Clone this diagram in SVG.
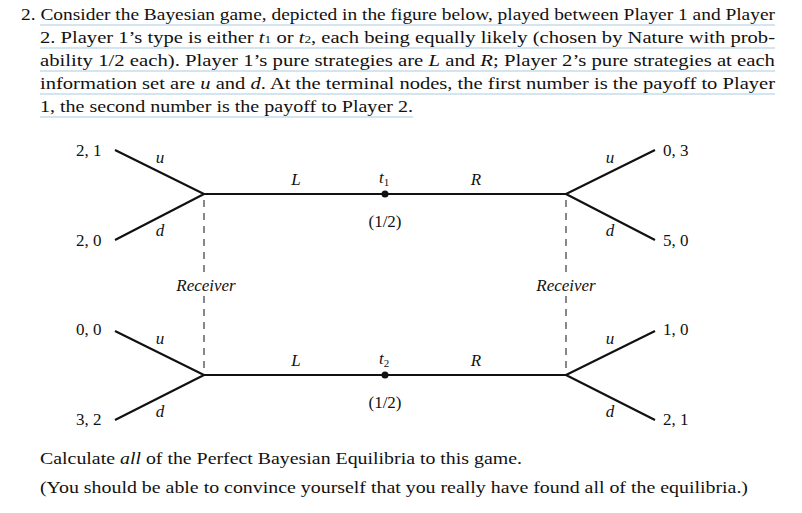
<svg xmlns="http://www.w3.org/2000/svg" width="802" height="513" viewBox="0 0 802 513">
<style>
text{font-family:"Liberation Serif","DejaVu Serif",serif;font-size:17px;fill:#111}
.s{font-size:17px}
.i{font-style:italic}
.e{stroke:#111;stroke-width:2.2;fill:none}
.ul{stroke:#a9cbe6;stroke-width:1.2}
.d{stroke:#111;stroke-width:1;stroke-dasharray:7,6}
</style>
<rect width="802" height="513" fill="#fff"/>
<g id="prose">
<text x="21" y="20" textLength="754" lengthAdjust="spacingAndGlyphs">2. Consider the Bayesian game, depicted in the figure below, played between Player 1 and Player</text>
<text x="40" y="43" textLength="735" lengthAdjust="spacingAndGlyphs">2. Player 1’s type is either <tspan class="i">t</tspan><tspan font-size="11">1</tspan> or <tspan class="i">t</tspan><tspan font-size="11">2</tspan>, each being equally likely (chosen by Nature with prob-</text>
<text x="40" y="66" textLength="735" lengthAdjust="spacingAndGlyphs">ability 1/2 each). Player 1’s pure strategies are <tspan class="i">L</tspan> and <tspan class="i">R</tspan>; Player 2’s pure strategies at each</text>
<text x="40" y="89" textLength="735" lengthAdjust="spacingAndGlyphs">information set are <tspan class="i">u</tspan> and <tspan class="i">d</tspan>. At the terminal nodes, the first number is the payoff to Player</text>
<text x="40" y="112" textLength="373" lengthAdjust="spacingAndGlyphs">1, the second number is the payoff to Player 2.</text>
<line class="ul" x1="40" y1="25" x2="775" y2="25"/>
<line class="ul" x1="40" y1="48" x2="775" y2="48"/>
<line class="ul" x1="40" y1="71" x2="775" y2="71"/>
<line class="ul" x1="40" y1="94" x2="775" y2="94"/>
<line class="ul" x1="40" y1="117" x2="413" y2="117"/>
<text x="40" y="464" textLength="482" lengthAdjust="spacingAndGlyphs">Calculate <tspan class="i">all</tspan> of the Perfect Bayesian Equilibria to this game.</text>
<text x="40" y="493" textLength="708" lengthAdjust="spacingAndGlyphs">(You should be able to convince yourself that you really have found all of the equilibria.)</text>
</g>
<g id="connectors">
<path class="e" d="M115 150 L204 194 L115 240 M204 194 H566 M655 150 L566 194 L655 240"/>
<path class="e" d="M115 331 L204 375 L115 420 M204 375 H566 M655 331 L566 375 L655 420"/>
<line class="d" x1="204" y1="200" x2="204" y2="272"/>
<line class="d" x1="204" y1="296" x2="204" y2="372"/>
<line class="d" x1="566" y1="200" x2="566" y2="272"/>
<line class="d" x1="566" y1="296" x2="566" y2="372"/>
</g>
<g id="n_t1"><circle cx="385" cy="194" r="3.5" fill="#111"/><text class="s i" x="379" y="183">t<tspan font-size="11" font-style="normal" dy="3">1</tspan></text><text class="s" x="385" y="227" text-anchor="middle">(1/2)</text></g>
<g id="n_t2"><circle cx="385" cy="375" r="3.5" fill="#111"/><text class="s i" x="379" y="364">t<tspan font-size="11" font-style="normal" dy="3">2</tspan></text><text class="s" x="385" y="408" text-anchor="middle">(1/2)</text></g>
<g id="labels">
<text class="s i" x="296" y="185" text-anchor="middle">L</text>
<text class="s i" x="476" y="185" text-anchor="middle">R</text>
<text class="s i" x="296" y="366" text-anchor="middle">L</text>
<text class="s i" x="476" y="366" text-anchor="middle">R</text>
<text class="s i" x="160" y="163" text-anchor="middle">u</text>
<text class="s i" x="160" y="236" text-anchor="middle">d</text>
<text class="s i" x="160" y="344" text-anchor="middle">u</text>
<text class="s i" x="160" y="417" text-anchor="middle">d</text>
<text class="s i" x="610" y="163" text-anchor="middle">u</text>
<text class="s i" x="610" y="236" text-anchor="middle">d</text>
<text class="s i" x="610" y="344" text-anchor="middle">u</text>
<text class="s i" x="610" y="417" text-anchor="middle">d</text>
<text class="s i" x="206" y="291" text-anchor="middle">Receiver</text>
<text class="s i" x="566" y="291" text-anchor="middle">Receiver</text>
<text class="s" x="76" y="156">2, 1</text>
<text class="s" x="76" y="246">2, 0</text>
<text class="s" x="76" y="335">0, 0</text>
<text class="s" x="76" y="425">3, 2</text>
<text class="s" x="663" y="156">0, 3</text>
<text class="s" x="663" y="246">5, 0</text>
<text class="s" x="663" y="335">1, 0</text>
<text class="s" x="663" y="425">2, 1</text>
</g>
</svg>
